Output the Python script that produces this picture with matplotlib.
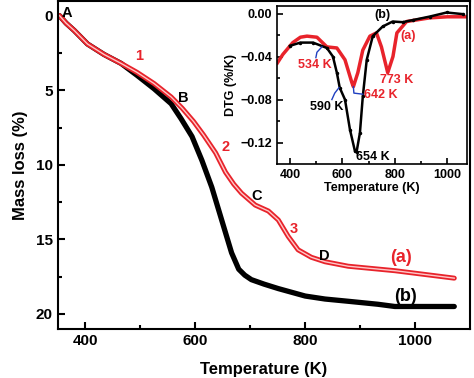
import numpy as np
import matplotlib
matplotlib.use("Agg")
from matplotlib import pyplot as plt

plt.rcParams['font.family'] = ['Liberation Sans', 'DejaVu Sans']
plt.rcParams['font.weight'] = 'bold'

RED = '#e8232b'

# main TG curves: temperature (K) vs mass loss (%)
a_T = [353, 365, 380, 404, 434, 465, 494, 525, 556, 576, 597, 615, 637, 655, 670, 684, 709, 733, 751, 769,
       787, 811, 836, 878, 963, 1071]
a_ml = [0, 0.5, 1.0, 1.9, 2.6, 3.2, 3.8, 4.55, 5.45, 6.2, 7.1, 8.0, 9.2, 10.5, 11.3, 11.9, 12.7, 13.1, 13.7, 14.8,
        15.7, 16.2, 16.5, 16.8, 17.1, 17.6]

b_T = [353, 365, 380, 404, 434, 465, 494, 525, 556, 574, 594, 612, 630, 648, 666, 679, 690, 702, 725, 751, 800,
       836, 878, 932, 963, 1071]
b_ml = [0, 0.5, 1.0, 1.9, 2.6, 3.2, 4.0, 4.9, 5.9, 6.9, 8.1, 9.7, 11.5, 13.7, 15.9, 17.0, 17.4, 17.7, 18.0, 18.3,
        18.8, 19.0, 19.15, 19.35, 19.5, 19.5]

# inset DTG curves
da_T = [352, 373, 411, 440, 465, 503, 541, 579, 610, 636, 642, 659, 678, 705, 730, 749, 773, 793, 808, 845, 933, 1000, 1070]
da_v = [-0.046, -0.038, -0.027, -0.022, -0.021, -0.022, -0.031, -0.032, -0.043, -0.064, -0.068, -0.055, -0.034,
        -0.021, -0.018, -0.031, -0.055, -0.040, -0.018, -0.0074, -0.004, -0.003, -0.003]

db_T = [400, 440, 488, 541, 564, 579, 590, 610, 629, 648, 654, 667, 678, 693, 716, 754, 792, 830, 870, 933, 998, 1059]
db_v = [-0.030, -0.027, -0.027, -0.032, -0.040, -0.055, -0.069, -0.080, -0.108, -0.128, -0.129, -0.111, -0.077,
        -0.043, -0.021, -0.012, -0.0074, -0.008, -0.006, -0.0028, 0.001, -0.0005]

main_labels = [("A", 366, -0.2, 'black'), ("1", 498, 2.7, RED), ("B", 578, 5.5, 'black'),
               ("2", 655, 8.8, RED), ("C", 712, 12.1, 'black'), ("3", 780, 14.3, RED),
               ("D", 835, 16.1, 'black'), ("(a)", 975, 16.2, RED), ("(b)", 982, 18.8, 'black')]

fig = plt.figure(figsize=(4.74, 3.78), dpi=100)
ax = fig.add_axes([0.122, 0.130, 0.870, 0.868])

ax.plot(b_T, b_ml, color='black', lw=3.8, solid_capstyle='round', solid_joinstyle='round')
ax.plot(a_T, a_ml, color=RED, lw=3.6, solid_capstyle='round', solid_joinstyle='round')
ax.plot(a_T, a_ml, color='#ffc8c8', lw=1.0, solid_joinstyle='round')

for txt, x, y, c in main_labels:
    fs = 13 if txt.startswith("(") else 10.5
    ax.text(x, y, txt, color=c, fontsize=fs, fontweight='bold', ha='center', va='center')

ax.set_xlim(350, 1100)
ax.set_ylim(21, -1)
ax.set_xticks([400, 600, 800, 1000])
ax.set_xticks([500, 700, 900], minor=True)
ax.set_yticks([0, 5, 10, 15, 20])
ax.set_yticks([2.5, 7.5, 12.5, 17.5], minor=True)
ax.tick_params(direction='in', which='both', labelsize=11, width=1.5)
ax.tick_params(which='major', length=5)
ax.tick_params(which='minor', length=3)
for s in ax.spines.values():
    s.set_linewidth(1.5)
ax.set_xlabel("Temperature (K)", fontsize=12, fontweight='bold', labelpad=10)
ax.set_ylabel("Mass loss (%)", fontsize=12, fontweight='bold', labelpad=6)

# inset
ins = fig.add_axes([0.584, 0.566, 0.401, 0.418])
ins.plot(da_T, da_v, color=RED, lw=2.5)
ins.plot(db_T, db_v, color='black', lw=1.8, marker='.', markersize=3)

blue_lines = [([499, 503, 522], [-0.041, -0.036, -0.031]),
              ([560, 571, 587], [-0.080, -0.074, -0.069]),
              ([642, 644, 678], [-0.068, -0.074, -0.075])]
for xs, ys in blue_lines:
    ins.plot(xs, ys, color='#2040c0', lw=1)

ins_labels = [("534 K", 495, -0.048, RED), ("590 K", 541, -0.0865, 'black'), ("642 K", 745, -0.076, RED),
              ("654 K", 716, -0.1335, 'black'), ("773 K", 808, -0.062, RED), ("(a)", 849, -0.021, RED),
              ("(b)", 754, -0.001, 'black')]
for txt, x, y, c in ins_labels:
    ins.text(x, y, txt, color=c, fontsize=9, fontweight='bold', ha='center', va='center')

ins.set_xlim(350, 1075)
ins.set_ylim(-0.14, 0.007)
ins.set_xticks([400, 600, 800, 1000])
ins.set_xticks([500, 700, 900], minor=True)
ins.set_yticks([0.0, -0.04, -0.08, -0.12])
ins.set_yticks([-0.02, -0.06, -0.10], minor=True)
ins.set_yticklabels(["0.00", "\u22120.04", "\u22120.08", "\u22120.12"])
ins.tick_params(direction='in', which='both', labelsize=9, width=1.2)
ins.tick_params(which='major', length=4)
ins.tick_params(which='minor', length=2.5)
for s in ins.spines.values():
    s.set_linewidth(1.2)
ins.set_xlabel("Temperature (K)", fontsize=9, fontweight='bold', labelpad=1)
ins.set_ylabel("DTG (%/K)", fontsize=9, fontweight='bold', labelpad=2)

fig.savefig("out.png", dpi=100)
